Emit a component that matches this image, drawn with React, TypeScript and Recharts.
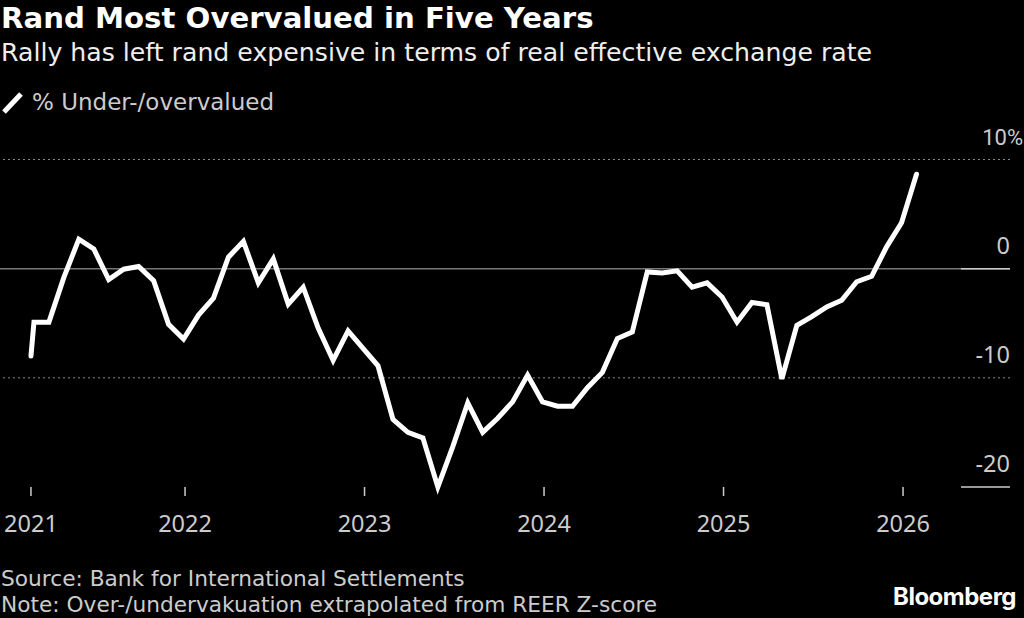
import { LineChart, Line, XAxis, YAxis, ReferenceLine } from 'recharts';

// months since Jan 2021
const months = [
  1.7, 1.9, 2.9, 3.9, 4.9, 5.9, 6.9, 7.9, 8.9, 9.9, 10.9, 11.9, 12.9, 13.9, 14.9, 15.9, 16.9, 17.9, 18.9, 19.9, 20.9,
  21.9, 22.9, 23.9, 24.9, 25.9, 26.9, 27.9, 28.9, 29.9, 30.9, 31.9, 32.9, 33.9, 34.9, 35.9, 36.9, 37.9, 38.9, 39.9,
  40.9, 41.9, 42.9, 43.9, 44.9, 45.9, 46.9, 47.9, 48.9, 49.9, 50.9, 51.9, 52.9, 53.9, 54.9, 55.9, 56.9, 57.9, 58.9,
  59.9, 60.9,
];
const valuation = [
  -8.0, -4.9, -4.9, -0.8, 2.7, 1.8, -1.0, -0.05, 0.2, -1.1, -5.1, -6.45, -4.25, -2.7, 1.05, 2.5, -1.3, 0.9, -3.25,
  -1.7, -5.45, -8.4, -5.7, -7.3, -8.9, -13.8, -15.0, -15.5, -20.0, -16.3, -12.3, -15.0, -13.7, -12.2, -9.75, -12.2,
  -12.6, -12.6, -10.9, -9.5, -6.4, -5.8, -0.3, -0.4, -0.2, -1.7, -1.3, -2.6, -4.9, -3.1, -3.3, -10.1, -5.2, -4.4,
  -3.5, -2.9, -1.2, -0.7, 2.0, 4.2, 8.65,
];
const xTicks = [1.7, 12, 24, 36, 48, 60];
const xLabels = ['2021', '2022', '2023', '2024', '2025', '2026'];
const yTicks = [10, 0, -10, -20];
const yLabels = ['10%', '0', '-10', '-20'];

const data = months.map((month, i) => ({ month, value: valuation[i] }));

const FONT = '"DejaVu Sans", sans-serif';
const AXIS_FONT = '"Noto Sans", sans-serif';

function XTick({ x, y, index }: any) {
  return (
    <text x={x} y={y + 34} textAnchor="middle" fontSize={23.5} fontFamily={AXIS_FONT} fill="#ccc">
      {xLabels[index]}
    </text>
  );
}

function YTick({ y, payload, index }: any) {
  const right = 1010;
  const bright = payload.value === 0 || payload.value === -20;
  const label = yLabels[index];
  return (
    <g>
      {label.endsWith('%') ? (
        // % sign hangs past the right edge of the numbers
        <text x={1023} y={y - 15} textAnchor="end" fontSize={22} fontFamily="Roboto, sans-serif" fill="#ccc">
          {label}
        </text>
      ) : (
        <text x={right} y={y - 15} textAnchor="end" fontSize={23.5} fontFamily={AXIS_FONT} fill="#ccc">
          {label}
        </text>
      )}
      {bright && <line x1={right - 49} x2={right} y1={y} y2={y} stroke="#ccc" strokeWidth={1.5} />}
    </g>
  );
}

export default function App() {
  return (
    <div style={{ position: 'absolute', left: 0, top: 0, width: 1024, height: 618, background: '#000', overflow: 'hidden', fontFamily: FONT }}>
      <style>{'body{margin:0;background:#000}'}</style>
      <div style={{ position: 'absolute', left: 1, top: 1, fontSize: 29.2, fontWeight: 700, color: '#fff', whiteSpace: 'nowrap' }}>
        Rand Most Overvalued in Five Years
      </div>
      <div style={{ position: 'absolute', left: 1, top: 38, fontSize: 25.2, color: '#eee', whiteSpace: 'nowrap' }}>
        Rally has left rand expensive in terms of real effective exchange rate
      </div>
      <svg style={{ position: 'absolute', left: 0, top: 88 }} width={28} height={30}>
        <line x1={4} y1={24} x2={21} y2={6} stroke="#fff" strokeWidth={5} />
      </svg>
      <div style={{ position: 'absolute', left: 32, top: 89, fontSize: 23, color: '#ccc', whiteSpace: 'nowrap' }}>
        % Under-/overvalued
      </div>
      <LineChart
        width={1024}
        height={618}
        data={data}
        margin={{ top: 159.5, right: 0, bottom: 0, left: 0 }}
        style={{ position: 'absolute', left: 0, top: 0 }}
      >
        <ReferenceLine y={10} stroke="#888" strokeDasharray="2 3" />
        <ReferenceLine y={-10} stroke="#888" strokeDasharray="2 3" />
        <ReferenceLine y={0} stroke="#777" strokeWidth={1.5} />
        <XAxis
          type="number"
          dataKey="month"
          domain={[-0.37, 67.15]}
          ticks={xTicks}
          interval={0}
          height={131}
          axisLine={false}
          tickSize={9}
          tickLine={{ stroke: '#ccc', strokeWidth: 1.5 }}
          tick={<XTick />}
        />
        <YAxis
          orientation="right"
          width={14}
          domain={[-20, 10]}
          ticks={yTicks}
          interval={0}
          axisLine={false}
          tickLine={false}
          tick={<YTick />}
        />
        <Line
          type="linear"
          dataKey="value"
          stroke="#fff"
          strokeWidth={5}
          strokeLinecap="round"
          strokeLinejoin="miter"
          dot={false}
          activeDot={false}
          isAnimationActive={false}
        />
      </LineChart>
      <div style={{ position: 'absolute', left: 1, top: 566, fontSize: 21.7, color: '#ccc', whiteSpace: 'nowrap' }}>
        Source: Bank for International Settlements
      </div>
      <div style={{ position: 'absolute', left: 1, top: 592, fontSize: 21.7, color: '#ccc', whiteSpace: 'nowrap' }}>
        Note: Over-/undervakuation extrapolated from REER Z-score
      </div>
      <div style={{ position: 'absolute', right: 8, top: 582, fontFamily: 'Inter, sans-serif', fontSize: 24, fontWeight: 700, color: '#fff', letterSpacing: -0.5 }}>
        Bloomberg
      </div>
    </div>
  );
}
